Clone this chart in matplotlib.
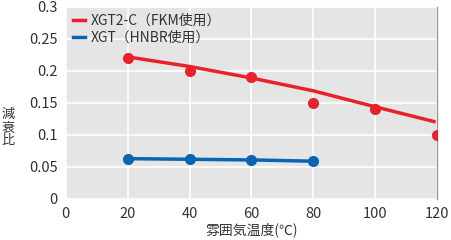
import matplotlib
matplotlib.use('Agg')
import matplotlib.pyplot as plt
from matplotlib.lines import Line2D

plt.rcParams['font.family'] = ['Noto Sans CJK JP', 'DejaVu Sans']

# measured points
temp_fkm = [20, 40, 60, 80, 100, 120]
ratio_fkm = [0.22, 0.20, 0.19, 0.15, 0.14, 0.10]
# fitted curve drawn through the FKM points
curve_x = [20, 40, 60, 80, 100, 119]
curve_y = [0.222, 0.207, 0.189, 0.169, 0.144, 0.121]

temp_hnbr = [20, 40, 60, 80]
ratio_hnbr = [0.063, 0.062, 0.061, 0.059]

xticks = [0, 20, 40, 60, 80, 100, 120]
yticks = [0, 0.05, 0.1, 0.15, 0.2, 0.25, 0.3]
ytick_labels = ['0', '0.05', '0.1', '0.15', '0.2', '0.25', '0.3']

red = '#e8212b'
blue = '#0a64b0'

fig = plt.figure(figsize=(4.51, 2.40), dpi=100)
ax = fig.add_axes([0.146, 0.171, 0.823, 0.800])
ax.set_facecolor('#e5e5e5')

ax.plot(curve_x, curve_y, color=red, lw=2.5, zorder=3)
ax.plot(temp_fkm, ratio_fkm, 'o', color=red, ms=7, zorder=4)
ax.plot(temp_hnbr, ratio_hnbr, '-o', color=blue, lw=2.5, ms=7, zorder=3)

ax.set_xlim(0, 120)
ax.set_ylim(0, 0.3)
ax.set_xticks(xticks)
ax.set_yticks(yticks)
ax.set_yticklabels(ytick_labels)
ax.grid(True, color='white', lw=1.2)
ax.set_axisbelow(True)
ax.tick_params(length=0, labelsize=10.5, colors='#333333', pad=6)
for s in ['top', 'left', 'bottom']:
    ax.spines[s].set_visible(False)
ax.spines['right'].set_color('#999999')
ax.spines['right'].set_linewidth(1)

ax.set_xlabel('雰囲気温度(℃)', fontsize=10, color='#333333', labelpad=1)
fig.text(0.018, 0.47, '減\n衰\n比', fontsize=9.5, color='#333333',
         ha='center', va='center', linespacing=1.0)

handles = [Line2D([], [], color=red, lw=2.5), Line2D([], [], color=blue, lw=2.5)]
labels = ['XGT2-C（FKM使用）', 'XGT（HNBR使用）']
leg = ax.legend(handles, labels, loc='upper left', frameon=False, fontsize=10,
                handlelength=0.9, handletextpad=0.4, labelspacing=0.2,
                borderaxespad=0.1, bbox_to_anchor=(0.0, 1.0))
for t in leg.get_texts():
    t.set_color('#333333')

fig.savefig('out.png', dpi=100)
